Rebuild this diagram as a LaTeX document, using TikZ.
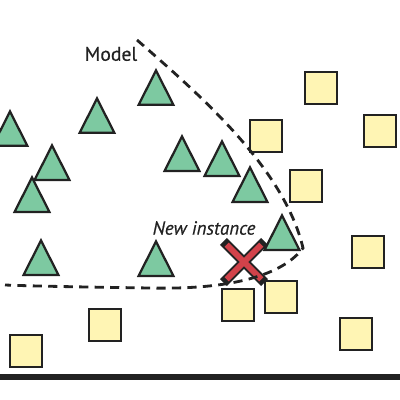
\documentclass[tikz,border=0pt]{standalone}
\usepackage{fontspec}
\setsansfont{PT Sans}
\newfontfamily\lblfont[FakeBold=0.5]{PT Sans}
\usetikzlibrary{shapes.geometric,shapes.misc}
\definecolor{triGreen}{HTML}{7DC9A1}
\definecolor{sqYellow}{HTML}{FFF5B4}
\definecolor{crossRed}{HTML}{D2424A}
\definecolor{edge}{HTML}{222222}

\begin{document}
\begin{tikzpicture}[x=0.025cm, y=-0.025cm,
  tri/.style={draw=edge, fill=triGreen, line width=1.6pt, isosceles triangle, isosceles triangle stretches, shape border rotate=90, minimum width=0.87cm, minimum height=0.86cm, inner sep=0pt, anchor=lower side},
  sq/.style={draw=edge, fill=sqYellow, line width=1.6pt, minimum size=0.81cm, inner sep=0pt},
  lbl/.style={font=\lblfont\fontsize{14}{16}\selectfont, text=edge}]
\useasboundingbox (0,0) rectangle (400,400);

\node[tri] (t1) at (156,106) {};
\node[tri] (t2) at (97,134) {};
\node[tri] (t3) at (10,147) {};
\node[tri] (t4) at (52,181) {};
\node[tri] (t5) at (32,213) {};
\node[tri] (t6) at (182,172) {};
\node[tri] (t7) at (222,177) {};
\node[tri] (t8) at (250,203) {};
\node[tri] (t9) at (282,251) {};
\node[tri] (t10) at (41,276) {};
\node[tri] (t11) at (156,277) {};

\node[sq] (s1) at (321,88) {};
\node[sq] (s2) at (380,131) {};
\node[sq] (s3) at (266,136) {};
\node[sq] (s4) at (306,186) {};
\node[sq] (s5) at (368,252) {};
\node[sq] (s6) at (238,305) {};
\node[sq] (s7) at (281,297) {};
\node[sq] (s8) at (356,334) {};
\node[sq] (s9) at (105,325) {};
\node[sq] (s10) at (26,351) {};

\node[cross out, draw=edge, line width=7pt, minimum size=0.78cm, inner sep=0pt] (newx) at (244,262) {};
\node[cross out, draw=crossRed, line width=4.2pt, minimum size=0.72cm, inner sep=0pt] (new) at (244,262) {};

\node[lbl] (model) at (111,54) {Model};
\node[lbl, font=\lblfont\itshape\fontsize{13.5}{16}\selectfont] (newlbl) at (204,228) {New instance};

\draw[edge, line width=2pt, dash pattern=on 6.5pt off 4.5pt] (137,40) .. controls (200,95) and (284,168) .. (303,248)
  .. controls (285,272) and (240,290) .. (150,288) .. controls (80,287) and (30,286) .. (5,285);

\draw[edge, line width=4.4pt] (0,377) -- (400,377);
\end{tikzpicture}
\end{document}
